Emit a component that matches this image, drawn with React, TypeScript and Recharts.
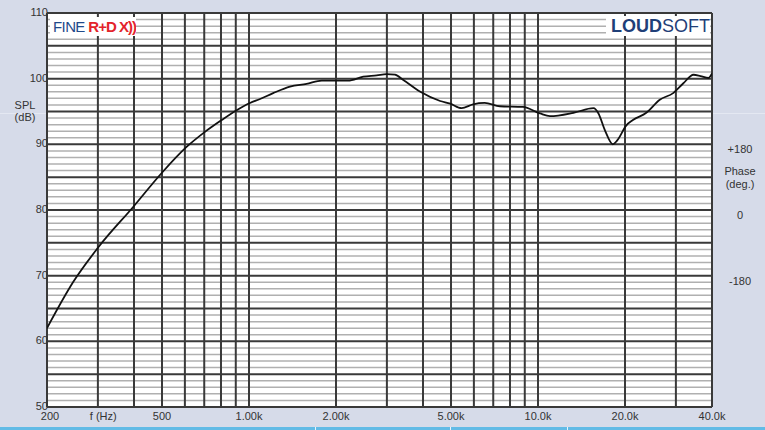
import React from "react";
import {
  LineChart,
  Line,
  XAxis,
  YAxis,
  ReferenceLine,
} from "recharts";

// Frequency response (Hz, dB SPL)
const freqs = [
  200, 247, 302, 398, 498, 608, 704, 804, 906, 1008, 1092, 1212, 1386, 1582,
  1786, 2000, 2201, 2484, 2766, 2994, 3198, 3420, 3916, 4584, 4967, 5440, 5960,
  6540, 7380, 8870, 10160, 11000, 13260, 15560, 16190, 17020, 18160, 18800,
  20220, 21300, 23700, 26380, 29360, 31840, 34520, 36500, 38880, 40000,
];
const spl = [
  62.0, 69.1, 74.4, 80.5, 85.6, 89.6, 91.9, 93.7, 95.2, 96.3, 96.9, 97.8, 98.8,
  99.2, 99.7, 99.7, 99.7, 100.3, 100.5, 100.7, 100.6, 99.8, 98.0, 96.6, 96.2,
  95.5, 96.1, 96.3, 95.8, 95.7, 94.7, 94.3, 94.8, 95.5, 94.7, 92.2, 90.0, 90.6,
  92.9, 93.7, 94.8, 96.8, 97.8, 99.3, 100.6, 100.4, 100.1, 100.8,
];

const xTicks = [200, 313, 500, 1000, 2000, 5000, 10000, 20000, 40000];
const xTickLabels = ["200", "f (Hz)", "500", "1.00k", "2.00k", "5.00k", "10.0k", "20.0k", "40.0k"];
const yTicks = [50, 60, 70, 80, 90, 100, 110];
const phaseTicks = [180, 0, -180];
const phaseTickLabels = ["+180", "0", "-180"];
const phaseDomain = [-540, 540];

const vGrid = [
  200, 300, 400, 500, 600, 700, 800, 900, 1000, 2000, 3000, 4000, 5000, 6000,
  7000, 8000, 9000, 10000, 20000, 30000, 40000,
];
const hMajor = [50, 55, 60, 65, 70, 75, 80, 85, 90, 95, 100, 105, 110];
const hMinor: number[] = [];
for (let v = 51; v < 110; v++) if (v % 5 !== 0) hMinor.push(v);

const data = freqs.map((f, i) => ({ f, spl: spl[i] }));

const FONT = "'Liberation Sans', Arial, sans-serif";
const TXT = "#333";

// plot frame (used for side labels only)
const PLOT_TOP = 13;
const PLOT_H = 394;
const phaseToY = (p: number) =>
  PLOT_TOP + ((phaseDomain[1] - p) / (phaseDomain[1] - phaseDomain[0])) * PLOT_H;

const XTick = (props: any) => {
  const { x, y, payload } = props;
  const i = xTicks.indexOf(payload.value);
  const dx = payload.value === 200 ? 3 : 0;
  return (
    <text x={x + dx} y={y + 13} textAnchor="middle" fontSize={11} fill={TXT} fontFamily={FONT}>
      {xTickLabels[i]}
    </text>
  );
};

const YTick = (props: any) => {
  const { x, y, payload } = props;
  return (
    <text x={x + 1} y={y + 3} textAnchor="end" fontSize={11} fill={TXT} fontFamily={FONT}>
      {payload.value}
    </text>
  );
};

export default function App() {
  return (
    <div
      style={{
        position: "absolute",
        left: 0,
        top: 0,
        width: 765,
        height: 430,
        background: "#d6dbe9",
        overflow: "hidden",
        fontFamily: FONT,
      }}
    >
      <div style={{ position: "absolute", left: 0, top: 113, width: 765, height: 1, background: "#e4e8f2" }} />
      <LineChart
        width={765}
        height={430}
        data={data}
        margin={{ top: 13, right: 53, bottom: 0, left: 0 }}
      >
        <rect x={47} y={13} width={665} height={394} fill="#fff" />
        <XAxis
          dataKey="f"
          type="number"
          scale="log"
          domain={[200, 40000]}
          ticks={xTicks}
          tick={<XTick />}
          tickLine={false}
          axisLine={false}
          tickSize={0}
          tickMargin={0}
          height={23}
          allowDataOverflow
        />
        <YAxis
          yAxisId="spl"
          type="number"
          domain={[50, 110]}
          ticks={yTicks}
          tick={<YTick />}
          tickLine={false}
          axisLine={false}
          tickSize={0}
          tickMargin={0}
          width={47}
        />
        {hMinor.map((v) => (
          <ReferenceLine key={"hm" + v} yAxisId="spl" y={v} stroke="#b0b0b0" strokeWidth={1.5} />
        ))}
        {vGrid.map((v) => (
          <ReferenceLine key={"v" + v} yAxisId="spl" x={v} stroke="#3a3a3a" strokeWidth={2} />
        ))}
        {hMajor.map((v) => (
          <ReferenceLine key={"hM" + v} yAxisId="spl" y={v} stroke="#3a3a3a" strokeWidth={2} />
        ))}
        <Line
          yAxisId="spl"
          type="monotone"
          dataKey="spl"
          stroke="#111"
          strokeWidth={1.8}
          dot={false}
          isAnimationActive={false}
        />
      </LineChart>

      {/* phase scale labels */}
      {phaseTicks.map((p, i) => (
        <div
          key={p}
          style={{
            position: "absolute",
            left: 720,
            top: phaseToY(p) - 1,
            width: 40,
            textAlign: "center",
            fontSize: 11,
            lineHeight: "13px",
            color: TXT,
          }}
        >
          {phaseTickLabels[i]}
        </div>
      ))}

      {/* logos */}
      <div
        style={{
          position: "absolute",
          left: 50,
          top: 17,
          width: 86,
          height: 19,
          paddingLeft: 3,
          boxSizing: "border-box",
          background: "#fff",
          fontSize: 15,
          lineHeight: "19px",
          whiteSpace: "nowrap",
          overflow: "hidden",
        }}
      >
        <span style={{ color: "#1f4a8a", letterSpacing: "-0.6px" }}>FINE </span>
        <span style={{ color: "#e3242b", fontWeight: "bold", letterSpacing: "-1px" }}>R+D X))</span>
      </div>
      <div
        style={{
          position: "absolute",
          left: 606,
          top: 16,
          width: 104,
          height: 20,
          background: "#fff",
          fontSize: 18,
          lineHeight: "20px",
          whiteSpace: "nowrap",
          color: "#1f3f78",
          textAlign: "right",
        }}
      >
        <span style={{ fontWeight: "bold" }}>LOUD</span>
        <span>SOFT</span>
      </div>

      {/* axis titles */}
      <div style={{ position: "absolute", left: 10, top: 99, width: 30, textAlign: "center", fontSize: 11, lineHeight: "12px", color: TXT }}>
        SPL<br />(dB)
      </div>
      <div style={{ position: "absolute", left: 720, top: 165, width: 40, textAlign: "center", fontSize: 11, lineHeight: "13px", color: TXT }}>
        Phase<br />(deg.)
      </div>

      {/* bottom strip */}
      <div style={{ position: "absolute", left: 0, top: 427, width: 765, height: 3, background: "#62bbe6" }} />
      {[315, 450, 567].map((x) => (
        <div key={x} style={{ position: "absolute", left: x, top: 427, width: 1, height: 3, background: "#e8f4fb" }} />
      ))}
    </div>
  );
}
